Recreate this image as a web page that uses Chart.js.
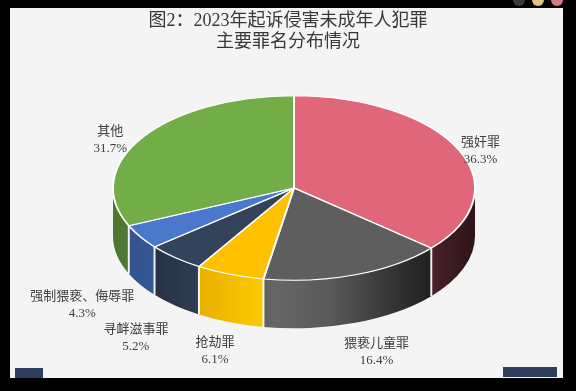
<!DOCTYPE html>
<html>
<head>
<meta charset="utf-8">
<script src="https://cdn.jsdelivr.net/npm/chart.js@4.4.1/dist/chart.umd.min.js"></script>
<style>
  html, body { margin: 0; padding: 0; background: #000; }
  canvas { display: block; }
</style>
</head>
<body>
<canvas id="pie-chart" width="576" height="391"></canvas>
<script>
// data
const categories = ['强奸罪', '猥亵儿童罪', '抢劫罪', '寻衅滋事罪', '强制猥亵、侮辱罪', '其他'];
const shares = [36.3, 16.4, 6.1, 5.2, 4.3, 31.7];
const sliceColors = ['#e0667a', '#5e5e5e', '#ffc000', '#34435c', '#4a78cc', '#72ad48'];
const titleLines = ['图2：2023年起诉侵害未成年人犯罪', '主要罪名分布情况'];

const TILT = 0.51;    // vertical squash of the pie
const DEPTH = 48;     // height of the side wall
const FONT = '"Liberation Serif", "Noto Sans CJK SC", serif';

function shade(hex, f) {
  const n = parseInt(hex.slice(1), 16);
  const c = [n >> 16, (n >> 8) & 255, n & 255].map(v => Math.max(0, Math.min(255, Math.round(v * f))));
  return 'rgb(' + c.join(',') + ')';
}

// light falls from the front left, the right side is in shadow
const wallStops = [[0, 0.68], [0.1, 0.72], [0.25, 0.92], [0.45, 1.08], [0.6, 0.95], [0.8, 0.5], [0.9, 0.3], [1, 0.2]];

// small nudges so crowded labels sit where the original has them
const labelNudge = [[-6, 2], [4, 3], [3, 3], [-6, 12], [-15, 6], [-6, 2]];

const pie3d = {
  id: 'pie3d',
  beforeDraw(chart) {
    const ctx = chart.ctx;
    ctx.save();
    ctx.fillStyle = '#000';
    ctx.fillRect(0, 0, chart.width, chart.height);
    ctx.fillStyle = '#f4f4f4';
    ctx.fillRect(10, 8, 553, 370);
    ctx.fillStyle = '#2f3f5e';
    ctx.fillRect(15, 368, 28, 10);
    ctx.fillRect(503, 367, 54, 10);
    [['#3a3a3a', 519], ['#e6c27a', 538], ['#d67a86', 557]].forEach(([c, x]) => {
      ctx.beginPath();
      ctx.arc(x, 0, 6, 0, Math.PI * 2);
      ctx.fillStyle = c;
      ctx.fill();
    });
    // title
    ctx.fillStyle = '#383838';
    ctx.font = '18px ' + FONT;
    ctx.textAlign = 'center';
    ctx.textBaseline = 'middle';
    titleLines.forEach((t, i) => ctx.fillText(t, 288, 21 + i * 21));
    ctx.restore();
  },
  beforeDatasetsDraw(chart) {
    const ctx = chart.ctx;
    const arcs = chart.getDatasetMeta(0).data;
    const {x: cx, y: cy, outerRadius: R} = arcs[0];
    const ry = R * TILT;

    // side walls, only the front half shows
    arcs.forEach((arc, i) => {
      const a1 = Math.max(arc.startAngle, 0);
      const a2 = Math.min(arc.endAngle, Math.PI);
      if (a2 <= a1) return;
      const g = ctx.createLinearGradient(cx - R, 0, cx + R, 0);
      wallStops.forEach(([t, f]) => g.addColorStop(t, shade(sliceColors[i], f)));
      ctx.beginPath();
      ctx.ellipse(cx, cy, R, ry, 0, a1, a2);
      ctx.ellipse(cx, cy + DEPTH, R, ry, 0, a2, a1, true);
      ctx.closePath();
      ctx.fillStyle = g;
      ctx.fill();
    });

    // white seams where the slices meet on the wall
    ctx.save();
    ctx.strokeStyle = 'rgba(255,255,255,0.9)';
    ctx.lineWidth = 2;
    arcs.forEach(arc => {
      const a = arc.endAngle;
      if (a <= 0 || a >= Math.PI) return;
      const x = cx + R * Math.cos(a);
      const y = cy + ry * Math.sin(a);
      ctx.beginPath();
      ctx.moveTo(x, y);
      ctx.lineTo(x, y + DEPTH);
      ctx.stroke();
    });
    ctx.restore();

    // squash the top face
    ctx.save();
    ctx.translate(cx, cy);
    ctx.scale(1, TILT);
    ctx.translate(-cx, -cy);
  },
  afterDatasetsDraw(chart) {
    const ctx = chart.ctx;
    ctx.restore();

    const arcs = chart.getDatasetMeta(0).data;
    const {x: cx, y: cy, outerRadius: R} = arcs[0];
    const ry = R * TILT;
    const total = shares.reduce((a, b) => a + b, 0);

    ctx.save();
    ctx.fillStyle = '#404040';
    ctx.font = '13px ' + FONT;
    ctx.textAlign = 'center';
    ctx.textBaseline = 'middle';
    arcs.forEach((arc, i) => {
      const mid = (arc.startAngle + arc.endAngle) / 2;
      const c = Math.cos(mid), s = Math.sin(mid);
      const front = s > 0;
      const fx = front ? 1.28 : 1.17;
      const fy = front ? 1.3 : 1.0;
      const x = cx + c * R * fx + labelNudge[i][0];
      const y = cy + s * ry * fy + (front ? DEPTH : 0) + labelNudge[i][1];
      const pct = (shares[i] / total * 100).toFixed(1) + '%';
      ctx.fillText(categories[i], x, y - 8.5);
      ctx.fillText(pct, x, y + 8.5);
    });
    ctx.restore();
  }
};

function drawPie() {
  new Chart(document.getElementById('pie-chart'), {
    type: 'pie',
    data: {
      labels: categories,
      datasets: [{
        data: shares,
        backgroundColor: sliceColors,
        borderColor: '#ffffff',
        borderWidth: 2,
        clip: false
      }]
    },
    options: {
      responsive: false,
      animation: false,
      devicePixelRatio: 1,
      events: [],
      layout: {
        padding: { left: 112, right: 100, top: 6, bottom: 21 }
      },
      plugins: {
        legend: { display: false },
        tooltip: { enabled: false },
        title: { display: false }
      }
    },
    plugins: [pie3d]
  });
}

document.addEventListener('DOMContentLoaded', drawPie);
</script>
</body>
</html>
